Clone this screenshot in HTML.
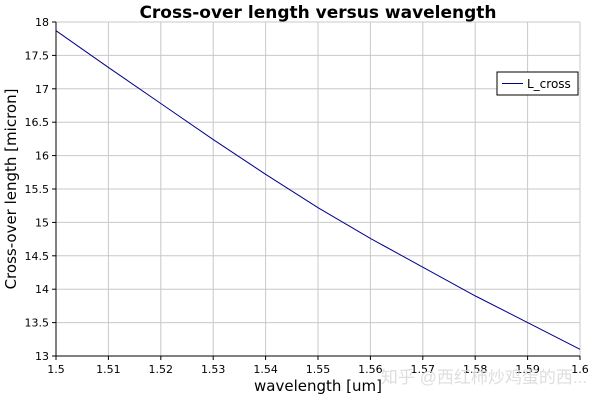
<!DOCTYPE html>
<html><head><meta charset="utf-8"><style>
body{margin:0;background:#fff;width:600px;height:400px;overflow:hidden}
text{font-family:"DejaVu Sans","Liberation Sans",sans-serif}
</style></head><body>
<svg width="600" height="400">
<text x="318" y="18" font-size="17" font-weight="bold" text-anchor="middle">Cross-over length versus wavelength</text>
<g id="grid"></g><g id="axes"></g>
<path id="line" fill="none" stroke="#00008b" stroke-width="1"/>
<text x="318" y="391" font-size="15" text-anchor="middle">wavelength [um]</text>
<text transform="translate(16,189) rotate(-90)" font-size="15" text-anchor="middle">Cross-over length [micron]</text>
<text x="587" y="383" font-size="17" fill="#d8d8d8" fill-opacity="0.85" text-anchor="end" style='font-family:"Liberation Sans","Noto Sans CJK SC",sans-serif'>知乎 @西红柿炒鸡蛋的西...</text>
<g>
<rect x="497" y="72" width="81" height="23" fill="#fff" stroke="#000"/>
<line x1="502" y1="83.5" x2="523" y2="83.5" stroke="#00008b"/>
<text x="527" y="88" font-size="12">L_cross</text>
</g>
</svg>
<script>
const xs=[1.5,1.51,1.52,1.53,1.54,1.55,1.56,1.57,1.58,1.59,1.6];
const ys=[17.87,17.32,16.78,16.24,15.72,15.22,14.76,14.33,13.9,13.5,13.1];
const xTicks=[1.5,1.51,1.52,1.53,1.54,1.55,1.56,1.57,1.58,1.59,1.6];
const xLabels=["1.5","1.51","1.52","1.53","1.54","1.55","1.56","1.57","1.58","1.59","1.6"];
const yTicks=[13,13.5,14,14.5,15,15.5,16,16.5,17,17.5,18];
const yLabels=["13","13.5","14","14.5","15","15.5","16","16.5","17","17.5","18"];
const L=56,R=580,T=22,B=356;
const X=v=>L+(v-1.5)/0.1*(R-L), Y=v=>B-(v-13)/5*(B-T);
const ns="http://www.w3.org/2000/svg",g=document.getElementById('grid'),a=document.getElementById('axes');
function mk(p,tag,at){const e=document.createElementNS(ns,tag);for(const k in at)e.setAttribute(k,at[k]);p.appendChild(e);return e;}
xTicks.forEach((t,i)=>{const x=X(t);
 const gl=mk(g,'line',{x1:x,x2:x,y1:T,y2:B,stroke:'#c8c8c8'});
 
 
 mk(a,'line',{x1:x,x2:x,y1:B,y2:B+4,stroke:'#000'});
 const tx=mk(a,'text',{x:x,y:B+17,'font-size':11,'text-anchor':'middle'});tx.textContent=xLabels[i];
 
 });
yTicks.forEach((t,i)=>{const y=Y(t);
 const gl=mk(g,'line',{x1:L,x2:R,y1:y,y2:y,stroke:'#c8c8c8'});
 
 
 mk(a,'line',{x1:L-4,x2:L,y1:y,y2:y,stroke:'#000'});
 const tx=mk(a,'text',{x:L-7,y:y+4,'font-size':11,'text-anchor':'end'});tx.textContent=yLabels[i];
 
 });
mk(a,'line',{x1:L,x2:L,y1:T,y2:B,stroke:'#000'});
mk(a,'line',{x1:L,x2:R,y1:B,y2:B,stroke:'#000'});
document.getElementById('line').setAttribute('d',xs.map((x,i)=>(i?'L':'M')+X(x)+','+Y(ys[i])).join(''));
</script>
</body></html>
